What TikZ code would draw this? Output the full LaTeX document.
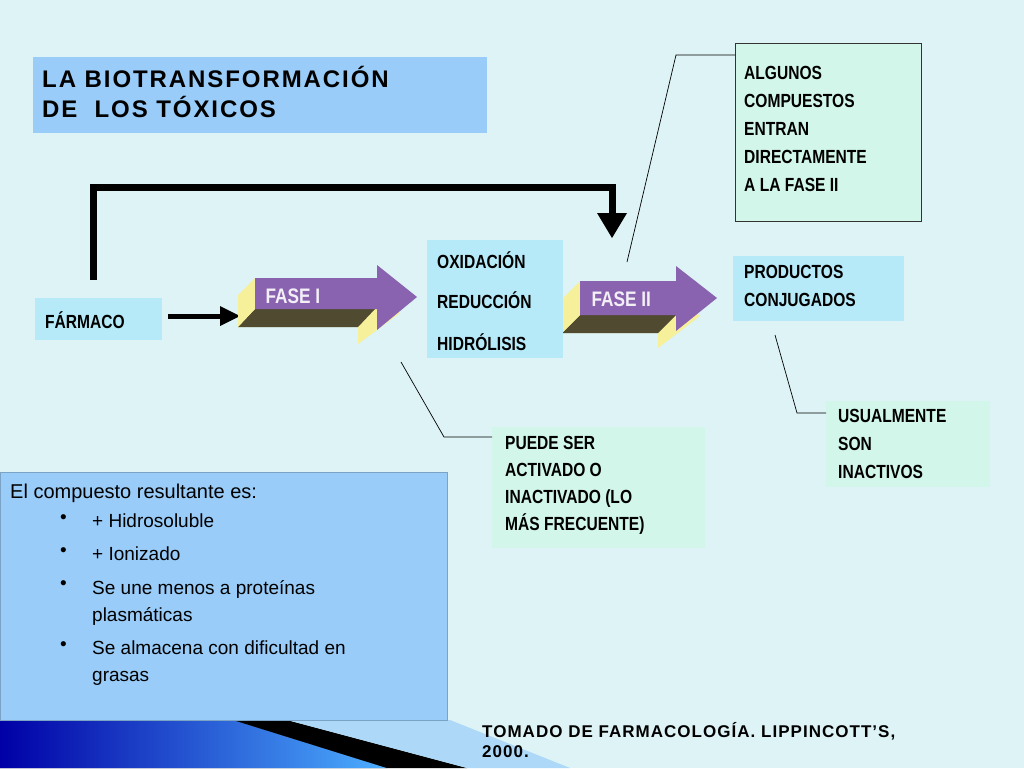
\documentclass[tikz,border=0pt]{standalone}
\usepackage{fontspec}
\setmainfont{Liberation Sans}
\newfontfamily\narrow[FakeStretch=0.82]{Liberation Sans}
\begin{document}
\begin{tikzpicture}[x=1pt,y=-1pt,
  nb/.style={font=\narrow\bfseries\fontsize{19}{28}\selectfont,align=left,anchor=north west,inner sep=0pt},
  thin/.style={black,line width=0.7pt}]
\definecolor{bg}{HTML}{DDF3F6}
\definecolor{tb}{HTML}{99CCF8}
\definecolor{cy}{HTML}{B6EAF8}
\definecolor{mint}{HTML}{D2F7EA}
\definecolor{purp}{HTML}{8A63B0}
\definecolor{yel}{HTML}{F6F09A}
\definecolor{olive}{HTML}{4F4A30}
\useasboundingbox (0,0) rectangle (1024,768);
\fill[bg] (0,0) rectangle (1024,768);
% bottom-left decoration
\fill[left color=blue!65!black, right color=blue!45!cyan!70!white] (0,720) -- (233,720) -- (387,768) -- (0,768) -- cycle;
\fill[black] (233,720) -- (287,720) -- (467,768) -- (387,768) -- cycle;
\fill[tb!70!bg] (287,720) -- (450,720) -- (570,768) -- (467,768) -- cycle;
% title
\fill[tb] (33,57) rectangle (487,133);
\node[anchor=north west,inner sep=0pt,align=left,font=\bfseries\fontsize{24}{30}\selectfont] (title) at (42,66) {\addfontfeature{LetterSpace=8}LA BIOTRANSFORMACIÓN\\\addfontfeature{LetterSpace=8}DE\ \ LOS TÓXICOS};
% farmaco
\fill[cy] (35,298) rectangle (162,340);
\node[nb,anchor=west] (farm) at (45,320) {FÁRMACO};
% bracket
\coordinate (b1) at (93,280); \coordinate (b2) at (93,187); \coordinate (b3) at (612,187); \coordinate (b4) at (612,215);
\draw[line width=7pt] (b1) -- (b2) -- (b3) -- (b4);
\fill (597,213) -- (627,213) -- (612,238) -- cycle;
% arrow farmaco -> fase I
\coordinate (a1) at (168,316); \coordinate (a2) at (222,316);
\draw[line width=5pt] (a1) -- (a2);
\fill (220,306) -- (240,316) -- (220,326) -- cycle;
% FASE I 3D arrow
\fill[yel] (238,295) -- (358,295) -- (358,282) -- (400,313) -- (358,344) -- (358,327) -- (238,327) -- cycle;
\fill[olive] (255,309) -- (375,309) -- (358,327) -- (238,327) -- cycle;
\fill[yel] (238,327) -- (255,309) -- (255,278) -- (238,295) -- cycle;
\fill[purp] (255,278) -- (377,278) -- (377,265) -- (417,297) -- (377,330) -- (377,309) -- (255,309) -- cycle;
\node[font=\narrow\bfseries\fontsize{21}{24}\selectfont,text=white!90!purp,anchor=west] (f1) at (262,296) {FASE I};
% FASE II 3D arrow
\fill[yel] (562,299) -- (658,299) -- (658,284) -- (700,316) -- (658,348) -- (658,333) -- (562,333) -- cycle;
\fill[olive] (580,315) -- (676,315) -- (658,333) -- (562,333) -- cycle;
\fill[yel] (562,333) -- (580,315) -- (580,281) -- (562,299) -- cycle;
\fill[purp] (580,281) -- (676,281) -- (676,266) -- (717,298) -- (676,331) -- (676,315) -- (580,315) -- cycle;
\node[font=\narrow\bfseries\fontsize{21}{24}\selectfont,text=white!90!purp,anchor=west] (f2) at (588,299) {FASE II};
% oxidacion box
\fill[cy] (427,240) rectangle (563,358);
\node[nb,anchor=west] (ox) at (437,260) {OXIDACIÓN};
\node[nb,anchor=west] (re) at (437,300) {REDUCCIÓN};
\node[nb,anchor=west] (hi) at (437,342) {HIDRÓLISIS};
% algunos
\draw[fill=mint,draw=black!80,line width=0.6pt] (735,43) rectangle (921,221);
\node[nb] (alg) at (744,66) {ALGUNOS\\COMPUESTOS\\ENTRAN\\DIRECTAMENTE\\A LA FASE II};
\coordinate (c1) at (627,262); \coordinate (c2) at (676,55); \coordinate (c3) at (735,55);
\draw[thin] (c1) -- (c2) -- (c3);
% productos
\fill[cy] (733,256) rectangle (904,321);
\node[nb] (prod) at (744,265) {PRODUCTOS\\CONJUGADOS};
% usualmente
\fill[mint] (826,401) rectangle (990,487);
\node[nb] (usu) at (838,409) {USUALMENTE\\SON\\INACTIVOS};
\coordinate (d1) at (775,335); \coordinate (d2) at (797,413); \coordinate (d3) at (826,413);
\draw[thin] (d1) -- (d2) -- (d3);
% puede ser
\fill[mint] (492,427) rectangle (705,548);
\node[nb,font=\narrow\bfseries\fontsize{19}{27}\selectfont] (pue) at (505,436) {PUEDE SER\\ACTIVADO O\\INACTIVADO (LO\\MÁS FRECUENTE)};
\coordinate (e1) at (401,362); \coordinate (e2) at (444,437); \coordinate (e3) at (492,437);
\draw[thin] (e1) -- (e2) -- (e3);
% bullet box
\draw[fill=tb,draw=tb!80!black,line width=0.4pt] (0,472) rectangle (447,720);
\node[anchor=west,inner sep=0pt,font=\fontsize{20}{24}\selectfont] (res) at (10,493) {El compuesto resultante es:};
\begin{scope}[every node/.style={anchor=north west,inner sep=0pt,align=left,font=\fontsize{19}{27}\selectfont}]
\node (b1d) at (60,514) {•}; \node (b1t) at (92,514) {+ Hidrosoluble};
\node (b2d) at (60,547) {•}; \node (b2t) at (92,547) {+ Ionizado};
\node (b3d) at (60,580) {•}; \node (b3t) at (92,580) {Se une menos a proteínas\\plasmáticas};
\node (b4d) at (60,641) {•}; \node (b4t) at (92,641) {Se almacena con dificultad en\\grasas};
\end{scope}
% footer
\node[anchor=north west,inner sep=0pt,align=left,font=\bfseries\fontsize{17}{20}\selectfont] (foot) at (482,722) {\addfontfeature{LetterSpace=6}TOMADO DE FARMACOLOGÍA. LIPPINCOTT'S,\\\addfontfeature{LetterSpace=6}2000.};
\end{tikzpicture}
\end{document}
